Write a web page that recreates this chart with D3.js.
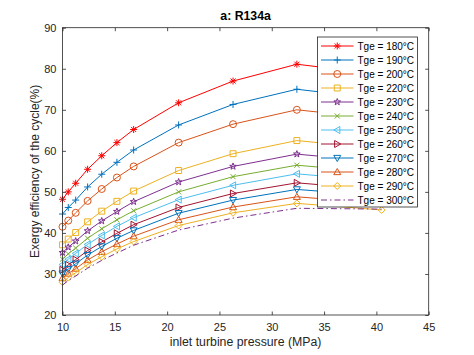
<!DOCTYPE html>
<html>
<head>
<meta charset="utf-8">
<script src="https://cdn.jsdelivr.net/npm/d3@7"></script>
<style>
  html, body { margin: 0; padding: 0; background: #fff; }
  svg { display: block; font-family: "Liberation Sans", Arial, sans-serif; }
</style>
</head>
<body>
<svg id="chart" width="474" height="355"></svg>
<script>
// ---- data ----
const pressure = [10.0, 10.55, 11.26, 12.4, 13.75, 15.2, 16.8, 21.1, 26.3, 32.4, 40.5];
const seriesNames = ["Tge = 180°C", "Tge = 190°C", "Tge = 200°C", "Tge = 220°C", "Tge = 230°C", "Tge = 240°C",
                     "Tge = 250°C", "Tge = 260°C", "Tge = 270°C", "Tge = 280°C", "Tge = 290°C", "Tge = 300°C"];
const tge180 = [48.2, 50.0, 52.1, 55.5, 58.8, 62.0, 65.2, 71.7, 77.0, 81.1, 78.6];
const tge190 = [44.6, 46.2, 48.0, 51.2, 54.3, 57.2, 60.2, 66.3, 71.3, 75.0, 72.6];
const tge200 = [41.5, 43.0, 44.9, 47.8, 50.7, 53.5, 56.2, 62.0, 66.5, 70.0, 67.8];
const tge220 = [37.1, 38.5, 40.1, 42.7, 45.3, 47.7, 50.2, 55.2, 59.3, 62.5, 60.5];
const tge230 = [35.2, 36.5, 38.0, 40.5, 42.9, 45.2, 47.6, 52.4, 56.2, 59.2, 57.3];
const tge240 = [33.6, 34.9, 36.3, 38.7, 41.0, 43.2, 45.4, 50.0, 53.7, 56.5, 54.7];
const tge250 = [32.3, 33.6, 35.0, 37.2, 39.4, 41.6, 43.7, 48.1, 51.6, 54.4, 52.6];
const tge260 = [31.0, 32.2, 33.5, 35.7, 37.8, 39.9, 42.0, 46.2, 49.6, 52.2, 50.5];
const tge270 = [30.1, 31.2, 32.5, 34.6, 36.7, 38.7, 40.6, 44.8, 48.0, 50.6, 49.0];
const tge280 = [29.0, 30.1, 31.3, 33.4, 35.4, 37.3, 39.2, 43.2, 46.3, 48.8, 47.2];
const tge290 = [28.0, 29.1, 30.3, 32.3, 34.2, 36.1, 37.9, 41.8, 44.9, 47.2, 45.6];
const tge300 = [27.3, 28.4, 29.5, 31.4, 33.3, 35.1, 37.0, 40.7, 43.6, 46.0, 45.8];
const xTicks = [10, 15, 20, 25, 30, 35, 40, 45];
const yTicks = [20, 30, 40, 50, 60, 70, 80, 90];

// ---- styles ----
const colors = ["#ff0000", "#0072BD", "#D95319", "#EDB120", "#7E2F8E", "#77AC30",
                "#4DBEEE", "#A2142F", "#0072BD", "#D95319", "#EDB120", "#7E2F8E"];
const markers = ["asterisk", "plus", "circle", "square", "star", "cross",
                 "triLeft", "triRight", "triDown", "triUp", "diamond", null];
const allValues = [tge180, tge190, tge200, tge220, tge230, tge240, tge250, tge260, tge270, tge280, tge290, tge300];
const series = seriesNames.map((name, i) => ({
  name, color: colors[i], marker: markers[i], dash: i === 11 ? "6,3,1.5,3" : null,
  points: pressure.map((p, j) => ({ p, v: allValues[i][j] }))
}));

const svg = d3.select("#chart");
const L = 62.5, R = 428.7, T = 27.7, B = 315;
const x = d3.scaleLinear().domain([10, 45]).range([L, R]);
const y = d3.scaleLinear().domain([20, 90]).range([B, T]);
const axisColor = "#262626";

// marker path generator, centred at 0,0
function markerPath(type, s) {
  const h = s / 2;
  switch (type) {
    case "asterisk": {
      const d = h * 0.72;
      return `M${-h},0L${h},0M0,${-h}L0,${h}M${-d},${-d}L${d},${d}M${-d},${d}L${d},${-d}`;
    }
    case "plus": return `M${-h},0L${h},0M0,${-h}L0,${h}`;
    case "cross": { const d = h * 0.72; return `M${-d},${-d}L${d},${d}M${-d},${d}L${d},${-d}`; }
    case "circle": return `M${h},0A${h},${h} 0 1,1 ${-h},0A${h},${h} 0 1,1 ${h},0Z`;
    case "square": { const q = h * 0.85; return `M${-q},${-q}L${q},${-q}L${q},${q}L${-q},${q}Z`; }
    case "diamond": return `M0,${-h}L${h},0L0,${h}L${-h},0Z`;
    case "triUp": return `M0,${-h}L${h},${h * 0.75}L${-h},${h * 0.75}Z`;
    case "triDown": return `M0,${h}L${h},${-h * 0.75}L${-h},${-h * 0.75}Z`;
    case "triLeft": return `M${-h},0L${h * 0.75},${-h}L${h * 0.75},${h}Z`;
    case "triRight": return `M${h},0L${-h * 0.75},${-h}L${-h * 0.75},${h}Z`;
    case "star": {
      let pts = [];
      for (let k = 0; k < 10; k++) {
        const r = k % 2 === 0 ? h : h * 0.4;
        const a = -Math.PI / 2 + k * Math.PI / 5;
        pts.push([r * Math.cos(a), r * Math.sin(a)]);
      }
      return "M" + pts.map(p => p[0].toFixed(2) + "," + p[1].toFixed(2)).join("L") + "Z";
    }
  }
  return "";
}

// ---- axes ----
function styleAxis(g) {
  g.select(".domain").remove();
  g.selectAll(".tick line").attr("stroke", axisColor).attr("stroke-width", 0.8);
  g.selectAll(".tick text").attr("fill", axisColor).style("font-size", "11px")
    .style("font-family", '"Liberation Sans", Arial, sans-serif');
}
svg.append("g").attr("transform", `translate(0,${B})`)
  .call(d3.axisBottom(x).tickValues(xTicks).tickSizeInner(-3.5).tickSizeOuter(0).tickPadding(8).tickFormat(d3.format("d")))
  .call(styleAxis);
svg.append("g").attr("transform", `translate(0,${T})`)
  .call(d3.axisTop(x).tickValues(xTicks).tickSizeInner(-3.5).tickSizeOuter(0).tickFormat(""))
  .call(styleAxis);
svg.append("g").attr("transform", `translate(${L},0)`)
  .call(d3.axisLeft(y).tickValues(yTicks).tickSizeInner(-3.5).tickSizeOuter(0).tickPadding(6).tickFormat(d3.format("d")))
  .call(styleAxis);
svg.append("g").attr("transform", `translate(${R},0)`)
  .call(d3.axisRight(y).tickValues(yTicks).tickSizeInner(-3.5).tickSizeOuter(0).tickFormat(""))
  .call(styleAxis);

// ---- series ----
const line = d3.line().x(d => x(d.p)).y(d => y(d.v));
const plot = svg.append("g");
series.forEach(s => {
  plot.append("path").datum(s.points)
    .attr("d", line).attr("fill", "none").attr("stroke", s.color).attr("stroke-width", 1)
    .attr("stroke-dasharray", s.dash);
  if (s.marker) {
    plot.selectAll(null).data(s.points).enter().append("path")
      .attr("d", markerPath(s.marker, 7))
      .attr("transform", d => `translate(${x(d.p)},${y(d.v)})`)
      .attr("fill", "none").attr("stroke", s.color).attr("stroke-width", 1);
  }
});

// box
svg.append("rect").attr("x", L).attr("y", T).attr("width", R - L).attr("height", B - T)
  .attr("fill", "none").attr("stroke", axisColor).attr("stroke-width", 0.8);

// ---- texts ----
svg.append("text").attr("x", (L + R) / 2).attr("y", 20).attr("text-anchor", "middle")
  .style("font-size", "12.3px").style("font-weight", "bold").attr("fill", "#000").text("a: R134a");
svg.append("text").attr("x", (L + R) / 2).attr("y", 345.5).attr("text-anchor", "middle")
  .style("font-size", "12.3px").attr("fill", axisColor).text("inlet turbine pressure (MPa)");
svg.append("text").attr("transform", `translate(35,${(T + B) / 2}) rotate(-90)`).attr("dy", "0.35em")
  .attr("text-anchor", "middle").style("font-size", "12px").attr("fill", axisColor)
  .text("Exergy efficiency of the cycle(%)");

// ---- legend ----
const lg = svg.append("g");
const lgX = 317.5, lgY = 37, lgW = 100, lgH = 170, rowH = 14.0;
lg.append("rect").attr("x", lgX).attr("y", lgY).attr("width", lgW).attr("height", lgH)
  .attr("fill", "#fff").attr("stroke", axisColor).attr("stroke-width", 0.8);
series.forEach((s, i) => {
  const cy = lgY + 9 + i * rowH;
  lg.append("line").attr("x1", lgX + 3.5).attr("x2", lgX + 36).attr("y1", cy).attr("y2", cy)
    .attr("stroke", s.color).attr("stroke-width", 1).attr("stroke-dasharray", s.dash);
  if (s.marker) {
    lg.append("path").attr("d", markerPath(s.marker, 7))
      .attr("transform", `translate(${lgX + 19.75},${cy})`)
      .attr("fill", "none").attr("stroke", s.color).attr("stroke-width", 1);
  }
  lg.append("text").attr("x", lgX + 40).attr("y", cy).attr("dy", "0.35em")
    .style("font-size", "10px").attr("fill", "#000").text(s.name);
});
</script>
</body>
</html>
